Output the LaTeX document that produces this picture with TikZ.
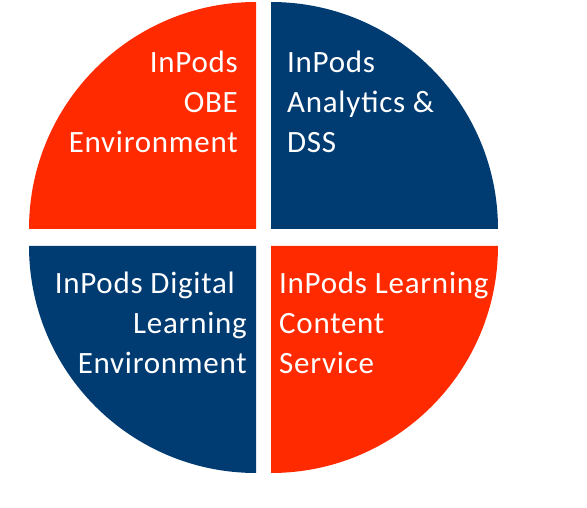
\documentclass[tikz,border=0pt]{standalone}
\usepackage{fontspec}
\setmainfont{Carlito}[LetterSpace=2.4]
\usepackage{tikz}
\usetikzlibrary{positioning}
\definecolor{podred}{HTML}{FF2A00}
\definecolor{podblue}{HTML}{003B72}

\begin{document}
\begin{tikzpicture}[x=1pt,y=1pt,
  quadtext/.style={text=white,inner sep=0pt,font=\fontsize{31}{40}\selectfont}]
  \useasboundingbox (0,0) rectangle (587,507);

  % four quarters of the disc, with a white cross between them
  \fill[podred]  (256,278) -- ++(-227,0) arc (180:90:227) -- cycle;
  \fill[podblue] (271,278) -- ++(0,227) arc (90:0:227) -- cycle;
  \fill[podblue] (256,261) -- ++(0,-227) arc (270:180:227) -- cycle;
  \fill[podred]  (271,261) -- ++(227,0) arc (0:-90:227) -- cycle;

  \node[quadtext,anchor=north east,align=right] (obe) at (238,456)
    {InPods\\OBE\\Environment};
  \node[quadtext,anchor=north west,align=left] (dss) at (287,456)
    {InPods\\Analytics \&\\DSS};
  \node[quadtext,anchor=north east,align=right] (dle) at (247,235)
    {InPods Digital\hspace*{12pt}\\Learning\hspace*{10pt}\\Environment};
  \node[quadtext,anchor=north west,align=left] (lcs) at (279,235)
    {InPods Learning\\Content\\Service};
\end{tikzpicture}
\end{document}
